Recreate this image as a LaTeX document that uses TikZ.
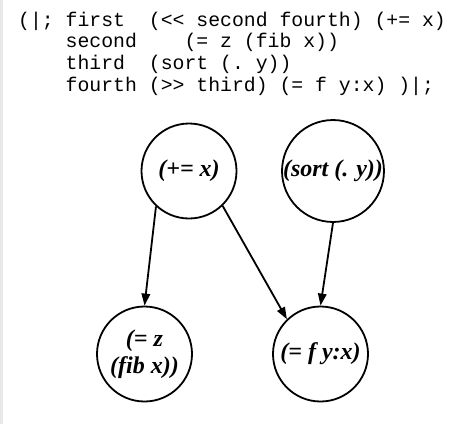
\documentclass[tikz,border=0pt]{standalone}
\usepackage{fontspec}
\usetikzlibrary{arrows.meta}
\newfontfamily\codefont{Liberation Mono}
\newfontfamily\nodefont{Liberation Serif}
\begin{document}
\begin{tikzpicture}[x=1pt,y=-1pt,
  codeline/.style={anchor=base west,inner sep=0pt,font=\codefont\fontsize{19.8}{22}\selectfont},
  opnode/.style={circle,draw,line width=1.8pt,minimum size=95pt,inner sep=0pt,align=center,
    font=\nodefont\bfseries\itshape\fontsize{24}{27}\selectfont},
  arr/.style={line width=1.8pt,-{Triangle[length=12pt,width=8.5pt]}}]
\useasboundingbox (0,0) rectangle (474,424);
\fill[gray!18] (0,0) rectangle (2.5,424);
\node[codeline] (l1) at (18,26) {(|;~first~~(<<~second~fourth)~(+=~x)};
\node[codeline] (l2) at (18,47.7) {~~~~second~~~~(=~z~(fib~x))};
\node[codeline] (l3) at (18,69.4) {~~~~third~~(sort~(.~y))};
\node[codeline] (l4) at (18,91.1) {~~~~fourth~(>>~third)~(=~f~y:x)~)|;};
\node[opnode] (A) at (189,171) {(+= x)};
\node[opnode] (B) at (333,171) {(sort (. y))};
\node[opnode] (C) at (144.5,354) {(= z\\(fib x))};
\node[opnode] (D) at (320.5,354) {(= f y:x)};
\draw[arr] (A.227) -- (C.north);
\draw[arr] (A.314) -- (D.134);
\draw[arr] (B.south) -- (D.north);
\end{tikzpicture}
\end{document}
